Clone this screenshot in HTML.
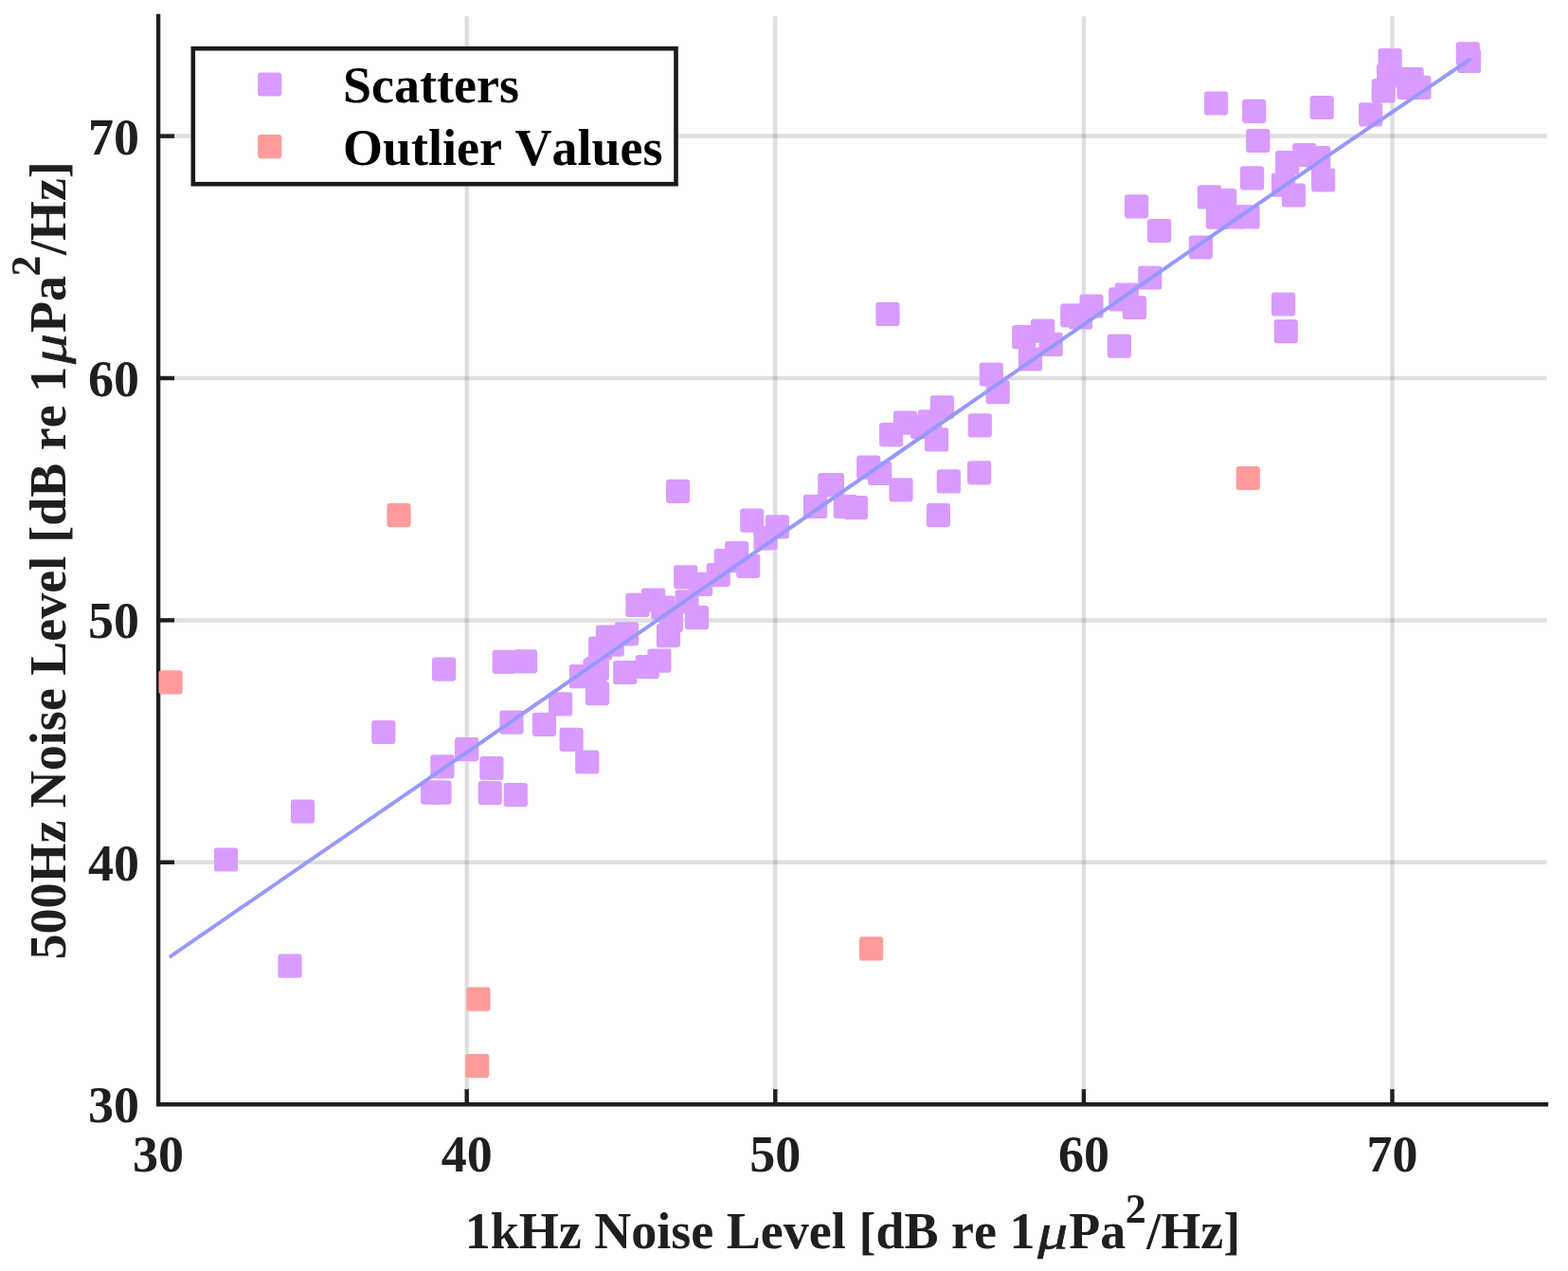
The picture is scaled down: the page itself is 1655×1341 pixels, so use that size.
<!DOCTYPE html>
<html lang="en"><head><meta charset="utf-8"><title>Noise Level Scatter</title>
<style>html,body{margin:0;padding:0;background:#fff;}body{width:1655px;height:1341px;overflow:hidden;}svg{display:block;}text{font-family:"Liberation Serif","DejaVu Serif",serif;font-weight:bold;fill:#1f1f1f;font-kerning:none;font-variant-ligatures:none;}.tk{font-size:54px;}.lb text{font-size:54px;}.lg{font-size:54px;fill:#000;}.lb text.mu{font-family:"Liberation Serif","DejaVu Serif",serif;font-style:italic;font-weight:normal;font-size:52px;stroke:#1f1f1f;stroke-width:0.7px;}</style></head><body>
<svg width="1655" height="1341" viewBox="0 0 1655 1341">
<rect width="1655" height="1341" fill="#fff"/>
<g stroke="#262626" stroke-opacity="0.15" stroke-width="4.5" fill="none">
<line x1="492.7" y1="17.3" x2="492.7" y2="1165.2"/>
<line x1="818.3" y1="17.3" x2="818.3" y2="1165.2"/>
<line x1="1143.9" y1="17.3" x2="1143.9" y2="1165.2"/>
<line x1="1469.5" y1="17.3" x2="1469.5" y2="1165.2"/>
<line x1="167.1" y1="909.8" x2="1632.7" y2="909.8"/>
<line x1="167.1" y1="654.4" x2="1632.7" y2="654.4"/>
<line x1="167.1" y1="399.0" x2="1632.7" y2="399.0"/>
<line x1="167.1" y1="143.6" x2="1632.7" y2="143.6"/>
</g>
<g stroke="#1f1f1f" stroke-width="4.4" fill="none">
<path d="M167.1 17.0 V1165.2 H1632.0" stroke-linecap="square" stroke-linejoin="miter"/>
<line x1="492.7" y1="1165.2" x2="492.7" y2="1149.2"/>
<line x1="167.1" y1="909.8" x2="184.1" y2="909.8"/>
<line x1="818.3" y1="1165.2" x2="818.3" y2="1149.2"/>
<line x1="167.1" y1="654.4" x2="184.1" y2="654.4"/>
<line x1="1143.9" y1="1165.2" x2="1143.9" y2="1149.2"/>
<line x1="167.1" y1="399.0" x2="184.1" y2="399.0"/>
<line x1="1469.5" y1="1165.2" x2="1469.5" y2="1149.2"/>
<line x1="167.1" y1="143.6" x2="184.1" y2="143.6"/>
</g>
<g fill="#d99bff">
<rect x="225.9" y="894.4" width="25.2" height="25.2" rx="3.1"/>
<rect x="293.4" y="1006.6" width="25.2" height="25.2" rx="3.1"/>
<rect x="306.9" y="843.6" width="25.2" height="25.2" rx="3.1"/>
<rect x="456.0" y="693.5" width="25.2" height="25.2" rx="3.1"/>
<rect x="519.6" y="685.7" width="25.2" height="25.2" rx="3.1"/>
<rect x="541.9" y="685.2" width="25.2" height="25.2" rx="3.1"/>
<rect x="392.2" y="759.9" width="25.2" height="25.2" rx="3.1"/>
<rect x="527.3" y="749.5" width="25.2" height="25.2" rx="3.1"/>
<rect x="480.0" y="778.1" width="25.2" height="25.2" rx="3.1"/>
<rect x="454.3" y="796.2" width="25.2" height="25.2" rx="3.1"/>
<rect x="506.3" y="797.9" width="25.2" height="25.2" rx="3.1"/>
<rect x="444.0" y="823.5" width="25.2" height="25.2" rx="3.1"/>
<rect x="451.4" y="823.5" width="25.2" height="25.2" rx="3.1"/>
<rect x="504.6" y="824.0" width="25.2" height="25.2" rx="3.1"/>
<rect x="531.7" y="826.0" width="25.2" height="25.2" rx="3.1"/>
<rect x="561.8" y="751.7" width="25.2" height="25.2" rx="3.1"/>
<rect x="579.0" y="730.2" width="25.2" height="25.2" rx="3.1"/>
<rect x="590.5" y="767.7" width="25.2" height="25.2" rx="3.1"/>
<rect x="607.2" y="791.4" width="25.2" height="25.2" rx="3.1"/>
<rect x="600.9" y="701.1" width="25.2" height="25.2" rx="3.1"/>
<rect x="617.8" y="719.0" width="25.2" height="25.2" rx="3.1"/>
<rect x="617.7" y="693.0" width="25.2" height="25.2" rx="3.1"/>
<rect x="615.4" y="694.6" width="25.2" height="25.2" rx="3.1"/>
<rect x="621.0" y="671.4" width="25.2" height="25.2" rx="3.1"/>
<rect x="628.9" y="659.6" width="25.2" height="25.2" rx="3.1"/>
<rect x="633.6" y="667.6" width="25.2" height="25.2" rx="3.1"/>
<rect x="648.8" y="656.3" width="25.2" height="25.2" rx="3.1"/>
<rect x="647.1" y="696.9" width="25.2" height="25.2" rx="3.1"/>
<rect x="670.7" y="691.0" width="25.2" height="25.2" rx="3.1"/>
<rect x="683.3" y="684.6" width="25.2" height="25.2" rx="3.1"/>
<rect x="692.9" y="658.0" width="25.2" height="25.2" rx="3.1"/>
<rect x="695.7" y="641.9" width="25.2" height="25.2" rx="3.1"/>
<rect x="722.9" y="639.0" width="25.2" height="25.2" rx="3.1"/>
<rect x="660.3" y="625.8" width="25.2" height="25.2" rx="3.1"/>
<rect x="677.0" y="620.4" width="25.2" height="25.2" rx="3.1"/>
<rect x="687.2" y="628.6" width="25.2" height="25.2" rx="3.1"/>
<rect x="712.4" y="622.3" width="25.2" height="25.2" rx="3.1"/>
<rect x="703.0" y="505.7" width="25.2" height="25.2" rx="3.1"/>
<rect x="781.1" y="536.5" width="25.2" height="25.2" rx="3.1"/>
<rect x="807.8" y="543.2" width="25.2" height="25.2" rx="3.1"/>
<rect x="795.4" y="555.2" width="25.2" height="25.2" rx="3.1"/>
<rect x="765.0" y="571.1" width="25.2" height="25.2" rx="3.1"/>
<rect x="753.7" y="579.1" width="25.2" height="25.2" rx="3.1"/>
<rect x="777.1" y="584.7" width="25.2" height="25.2" rx="3.1"/>
<rect x="745.6" y="594.0" width="25.2" height="25.2" rx="3.1"/>
<rect x="711.1" y="596.2" width="25.2" height="25.2" rx="3.1"/>
<rect x="726.9" y="603.7" width="25.2" height="25.2" rx="3.1"/>
<rect x="848.0" y="521.8" width="25.2" height="25.2" rx="3.1"/>
<rect x="863.2" y="499.0" width="25.2" height="25.2" rx="3.1"/>
<rect x="865.9" y="499.0" width="25.2" height="25.2" rx="3.1"/>
<rect x="879.7" y="521.8" width="25.2" height="25.2" rx="3.1"/>
<rect x="890.9" y="523.1" width="25.2" height="25.2" rx="3.1"/>
<rect x="904.1" y="480.5" width="25.2" height="25.2" rx="3.1"/>
<rect x="916.1" y="486.7" width="25.2" height="25.2" rx="3.1"/>
<rect x="928.1" y="446.0" width="25.2" height="25.2" rx="3.1"/>
<rect x="938.4" y="504.2" width="25.2" height="25.2" rx="3.1"/>
<rect x="924.4" y="318.8" width="25.2" height="25.2" rx="3.1"/>
<rect x="1033.7" y="382.4" width="25.2" height="25.2" rx="3.1"/>
<rect x="1040.6" y="401.1" width="25.2" height="25.2" rx="3.1"/>
<rect x="981.8" y="417.2" width="25.2" height="25.2" rx="3.1"/>
<rect x="943.0" y="433.5" width="25.2" height="25.2" rx="3.1"/>
<rect x="968.8" y="432.2" width="25.2" height="25.2" rx="3.1"/>
<rect x="960.8" y="438.0" width="25.2" height="25.2" rx="3.1"/>
<rect x="976.0" y="451.3" width="25.2" height="25.2" rx="3.1"/>
<rect x="1021.7" y="436.2" width="25.2" height="25.2" rx="3.1"/>
<rect x="988.7" y="495.3" width="25.2" height="25.2" rx="3.1"/>
<rect x="1021.0" y="486.2" width="25.2" height="25.2" rx="3.1"/>
<rect x="977.8" y="531.0" width="25.2" height="25.2" rx="3.1"/>
<rect x="1068.1" y="343.0" width="25.2" height="25.2" rx="3.1"/>
<rect x="1088.0" y="336.5" width="25.2" height="25.2" rx="3.1"/>
<rect x="1096.6" y="350.7" width="25.2" height="25.2" rx="3.1"/>
<rect x="1074.8" y="366.4" width="25.2" height="25.2" rx="3.1"/>
<rect x="1119.2" y="320.2" width="25.2" height="25.2" rx="3.1"/>
<rect x="1139.4" y="310.4" width="25.2" height="25.2" rx="3.1"/>
<rect x="1127.9" y="322.4" width="25.2" height="25.2" rx="3.1"/>
<rect x="1170.2" y="303.2" width="25.2" height="25.2" rx="3.1"/>
<rect x="1176.7" y="298.5" width="25.2" height="25.2" rx="3.1"/>
<rect x="1184.9" y="311.9" width="25.2" height="25.2" rx="3.1"/>
<rect x="1168.8" y="352.5" width="25.2" height="25.2" rx="3.1"/>
<rect x="1187.0" y="205.2" width="25.2" height="25.2" rx="3.1"/>
<rect x="1211.0" y="230.9" width="25.2" height="25.2" rx="3.1"/>
<rect x="1254.8" y="248.4" width="25.2" height="25.2" rx="3.1"/>
<rect x="1201.2" y="280.4" width="25.2" height="25.2" rx="3.1"/>
<rect x="1342.0" y="308.4" width="25.2" height="25.2" rx="3.1"/>
<rect x="1344.7" y="337.1" width="25.2" height="25.2" rx="3.1"/>
<rect x="1263.9" y="195.3" width="25.2" height="25.2" rx="3.1"/>
<rect x="1280.2" y="198.9" width="25.2" height="25.2" rx="3.1"/>
<rect x="1272.8" y="216.5" width="25.2" height="25.2" rx="3.1"/>
<rect x="1304.5" y="216.2" width="25.2" height="25.2" rx="3.1"/>
<rect x="1288.7" y="216.2" width="25.2" height="25.2" rx="3.1"/>
<rect x="1309.0" y="175.3" width="25.2" height="25.2" rx="3.1"/>
<rect x="1315.2" y="135.9" width="25.2" height="25.2" rx="3.1"/>
<rect x="1311.1" y="104.7" width="25.2" height="25.2" rx="3.1"/>
<rect x="1270.9" y="96.4" width="25.2" height="25.2" rx="3.1"/>
<rect x="1346.1" y="159.1" width="25.2" height="25.2" rx="3.1"/>
<rect x="1364.2" y="151.0" width="25.2" height="25.2" rx="3.1"/>
<rect x="1379.2" y="154.0" width="25.2" height="25.2" rx="3.1"/>
<rect x="1384.1" y="177.4" width="25.2" height="25.2" rx="3.1"/>
<rect x="1342.0" y="182.6" width="25.2" height="25.2" rx="3.1"/>
<rect x="1352.9" y="193.4" width="25.2" height="25.2" rx="3.1"/>
<rect x="1382.6" y="100.9" width="25.2" height="25.2" rx="3.1"/>
<rect x="1434.1" y="108.2" width="25.2" height="25.2" rx="3.1"/>
<rect x="1454.6" y="51.0" width="25.2" height="25.2" rx="3.1"/>
<rect x="1453.0" y="67.4" width="25.2" height="25.2" rx="3.1"/>
<rect x="1447.6" y="83.3" width="25.2" height="25.2" rx="3.1"/>
<rect x="1477.6" y="71.1" width="25.2" height="25.2" rx="3.1"/>
<rect x="1485.4" y="79.7" width="25.2" height="25.2" rx="3.1"/>
<rect x="1474.5" y="79.7" width="25.2" height="25.2" rx="3.1"/>
<rect x="1536.7" y="44.3" width="25.2" height="25.2" rx="3.1"/>
<rect x="1538.0" y="51.9" width="25.2" height="25.2" rx="3.1"/>
</g>
<g fill="#ff9b9b">
<rect x="167.5" y="707.2" width="25.2" height="25.2" rx="3.1"/>
<rect x="408.4" y="531.0" width="25.2" height="25.2" rx="3.1"/>
<rect x="492.3" y="1041.6" width="25.2" height="25.2" rx="3.1"/>
<rect x="491.1" y="1112.0" width="25.2" height="25.2" rx="3.1"/>
<rect x="907.0" y="988.3" width="25.2" height="25.2" rx="3.1"/>
<rect x="1304.7" y="491.9" width="25.2" height="25.2" rx="3.1"/>
</g>
<polyline points="180.3,1008.8 515,778.4 940,483.5 1400,165.3 1551.2,62.8" fill="none" stroke="#9798ff" stroke-width="4.0" stroke-linecap="round" stroke-linejoin="round"/>
<g class="tk">
<text x="167.1" y="1236" text-anchor="middle">30</text>
<text x="492.7" y="1236" text-anchor="middle">40</text>
<text x="818.3" y="1236" text-anchor="middle">50</text>
<text x="1143.9" y="1236" text-anchor="middle">60</text>
<text x="1469.5" y="1236" text-anchor="middle">70</text>
<text x="147" y="1184.2" text-anchor="end">30</text>
<text x="147" y="928.8" text-anchor="end">40</text>
<text x="147" y="673.4" text-anchor="end">50</text>
<text x="147" y="418.0" text-anchor="end">60</text>
<text x="147" y="162.6" text-anchor="end">70</text>
</g>
<g class="lb" transform="translate(490.7 1317)"><text x="0" y="0">1kHz Noise Level</text><text x="415.9" y="0">[dB re 1</text><text class="mu" transform="translate(604.5 -0.5) scale(1.22 1)">μ</text><text x="637.5" y="0">Pa</text><text x="697.1" y="-27.3" style="font-size:44px">2</text><text x="719.5" y="0">/Hz]</text></g>
<g class="lb" transform="translate(69.2 1012.6) rotate(-90)"><text x="0" y="0">500Hz Noise Level</text><text x="439.9" y="0">[dB re 1</text><text class="mu" transform="translate(628.5 -0.5) scale(1.22 1)">μ</text><text x="661.5" y="0">Pa</text><text x="721.1" y="-27.3" style="font-size:44px">2</text><text x="743.5" y="0">/Hz]</text></g>
<rect x="203.8" y="51.2" width="509.7" height="143" fill="#fff" stroke="#1a1a1a" stroke-width="4.6"/>
<rect x="272.1" y="76.4" width="25.2" height="25.2" rx="3.1" fill="#d99bff"/>
<rect x="272.1" y="142.0" width="25.2" height="25.2" rx="3.1" fill="#ff9b9b"/>
<text class="lg" x="362" y="107.7" >Scatters</text>
<text class="lg" x="362" y="173.7" >Outlier Values</text>
</svg></body></html>
